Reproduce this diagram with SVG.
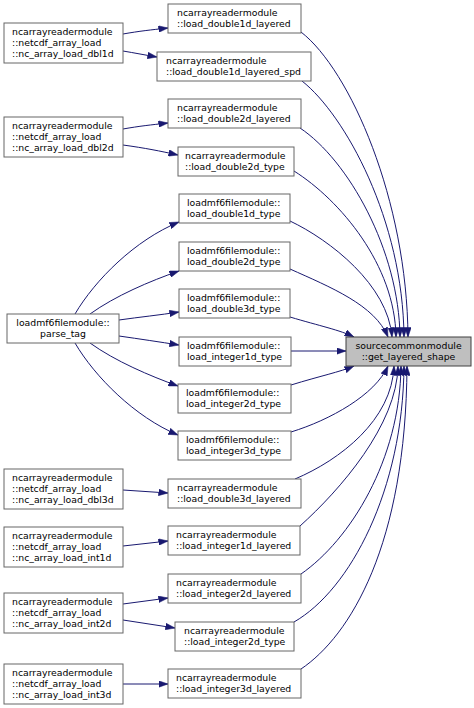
<svg xmlns="http://www.w3.org/2000/svg" width="474" height="708" viewBox="0 0 474 708">
<style>
.nd rect{fill:#ffffff;stroke:#666666;stroke-width:1}
.root rect{fill:#bfbfbf;stroke:#404040;stroke-width:1}
text{font-family:"DejaVu Sans","Liberation Sans",sans-serif;font-size:9.3px;fill:#000000}
.c{text-anchor:middle}
.e path{fill:none;stroke:#191970;stroke-width:1;marker-end:url(#ah)}
</style>
<defs>
<marker id="ah" markerUnits="userSpaceOnUse" markerWidth="10" markerHeight="7" viewBox="0 0 10 7" refX="9.5" refY="3.5" orient="auto">
<path d="M0,0.2 L9.5,3.5 L0,6.8 Z" fill="#191970" stroke="#191970" stroke-width="0.5"/>
</marker>
</defs>
<rect width="474" height="708" fill="#ffffff"/>
<g id="connectors" class="e">
<path d="M123,34 C140,31 150,30 168,28"/>
<path d="M123,51 C135,53 145,55 157,57"/>
<path d="M123,129 C140,126 150,125 168,123"/>
<path d="M123,145 C145,148 160,151 178,155"/>
<path d="M75,314 C95,280 135,240 179,222"/>
<path d="M90,314 C115,296 150,281 179,271"/>
<path d="M119,320 C140,317 160,315 179,312"/>
<path d="M119,336 C140,339 160,342 179,345"/>
<path d="M90,343 C115,361 150,376 178,386"/>
<path d="M75,343 C95,377 135,417 178,435"/>
<path d="M123,490 L168,493"/>
<path d="M123,546 L168,541"/>
<path d="M123,604 L168,598"/>
<path d="M123,620 L175,628"/>
<path d="M123,684 L168,684"/>
<path d="M301,32 C350,70 407,200 408,337"/>
<path d="M302,81 C345,115 403,220 404,337"/>
<path d="M300,128 C348,160 399,250 400,337"/>
<path d="M294,171 C340,200 395,265 396,337"/>
<path d="M290,221 C330,240 388,285 392,337"/>
<path d="M290,269 C330,287 375,305 388,337"/>
<path d="M290,317 C320,326 340,330 354,337"/>
<path d="M291,351 L346,351"/>
<path d="M291,385 C320,376 340,372 354,366"/>
<path d="M291,432 C330,420 375,395 388,366"/>
<path d="M295,479 C340,460 392,420 394,366"/>
<path d="M300,526 C340,490 397,425 398,366"/>
<path d="M301,574 C350,540 400,460 401,366"/>
<path d="M294,622 C350,590 403,490 404,366"/>
<path d="M301,669 C350,636 406,545 407,366"/>
</g>
<g id="n_dbl1d" class="nd"><rect x="4" y="23" width="119" height="40"/><text x="12" y="35">ncarrayreadermodule</text><text x="12" y="46">::netcdf_array_load</text><text x="12" y="57">::nc_array_load_dbl1d</text></g>
<g id="n_dbl2d" class="nd"><rect x="4" y="117" width="119" height="40"/><text x="12" y="129">ncarrayreadermodule</text><text x="12" y="140">::netcdf_array_load</text><text x="12" y="151">::nc_array_load_dbl2d</text></g>
<g id="n_parse_tag" class="nd"><rect x="7" y="314" width="112" height="29"/><text class="c" x="63" y="326">loadmf6filemodule::</text><text class="c" x="63" y="337">parse_tag</text></g>
<g id="n_dbl3d" class="nd"><rect x="4" y="469" width="119" height="40"/><text x="12" y="481">ncarrayreadermodule</text><text x="12" y="492">::netcdf_array_load</text><text x="12" y="503">::nc_array_load_dbl3d</text></g>
<g id="n_int1d" class="nd"><rect x="4" y="527" width="119" height="40"/><text x="12" y="539">ncarrayreadermodule</text><text x="12" y="550">::netcdf_array_load</text><text x="12" y="561">::nc_array_load_int1d</text></g>
<g id="n_int2d" class="nd"><rect x="4" y="593" width="119" height="40"/><text x="12" y="605">ncarrayreadermodule</text><text x="12" y="616">::netcdf_array_load</text><text x="12" y="627">::nc_array_load_int2d</text></g>
<g id="n_int3d" class="nd"><rect x="4" y="664" width="119" height="40"/><text x="12" y="676">ncarrayreadermodule</text><text x="12" y="687">::netcdf_array_load</text><text x="12" y="698">::nc_array_load_int3d</text></g>
<g id="m_load_double1d_layered" class="nd"><rect x="168" y="4" width="133" height="29"/><text x="177" y="16">ncarrayreadermodule</text><text x="177" y="27">::load_double1d_layered</text></g>
<g id="m_load_double1d_layered_spd" class="nd"><rect x="157" y="52" width="154" height="29"/><text x="166" y="64">ncarrayreadermodule</text><text x="166" y="75">::load_double1d_layered_spd</text></g>
<g id="m_load_double2d_layered" class="nd"><rect x="168" y="99" width="133" height="29"/><text x="177" y="111">ncarrayreadermodule</text><text x="177" y="122">::load_double2d_layered</text></g>
<g id="m_load_double2d_type" class="nd"><rect x="178" y="147" width="116" height="29"/><text x="185" y="159">ncarrayreadermodule</text><text x="185" y="170">::load_double2d_type</text></g>
<g id="f_load_double1d_type" class="nd"><rect x="179" y="194" width="111" height="29"/><text x="187" y="206">loadmf6filemodule::</text><text x="187" y="217">load_double1d_type</text></g>
<g id="f_load_double2d_type" class="nd"><rect x="179" y="242" width="111" height="29"/><text x="187" y="254">loadmf6filemodule::</text><text x="187" y="265">load_double2d_type</text></g>
<g id="f_load_double3d_type" class="nd"><rect x="179" y="289" width="111" height="29"/><text x="187" y="301">loadmf6filemodule::</text><text x="187" y="312">load_double3d_type</text></g>
<g id="f_load_integer1d_type" class="nd"><rect x="179" y="337" width="112" height="29"/><text x="187" y="349">loadmf6filemodule::</text><text x="187" y="360">load_integer1d_type</text></g>
<g id="f_load_integer2d_type" class="nd"><rect x="178" y="384" width="113" height="29"/><text x="186" y="396">loadmf6filemodule::</text><text x="186" y="407">load_integer2d_type</text></g>
<g id="f_load_integer3d_type" class="nd"><rect x="178" y="431" width="113" height="29"/><text x="186" y="443">loadmf6filemodule::</text><text x="186" y="454">load_integer3d_type</text></g>
<g id="m_load_double3d_layered" class="nd"><rect x="168" y="479" width="133" height="29"/><text x="177" y="491">ncarrayreadermodule</text><text x="177" y="502">::load_double3d_layered</text></g>
<g id="m_load_integer1d_layered" class="nd"><rect x="168" y="526" width="132" height="29"/><text x="176" y="538">ncarrayreadermodule</text><text x="176" y="549">::load_integer1d_layered</text></g>
<g id="m_load_integer2d_layered" class="nd"><rect x="168" y="574" width="133" height="29"/><text x="176" y="586">ncarrayreadermodule</text><text x="176" y="597">::load_integer2d_layered</text></g>
<g id="m_load_integer2d_type" class="nd"><rect x="175" y="622" width="119" height="29"/><text x="184" y="634">ncarrayreadermodule</text><text x="184" y="645">::load_integer2d_type</text></g>
<g id="m_load_integer3d_layered" class="nd"><rect x="168" y="669" width="133" height="29"/><text x="176" y="681">ncarrayreadermodule</text><text x="176" y="692">::load_integer3d_layered</text></g>
<g id="t_get_layered_shape" class="root"><rect x="346" y="337" width="125" height="29"/><text class="c" x="408.5" y="349">sourcecommonmodule</text><text class="c" x="408.5" y="360">::get_layered_shape</text></g>
</svg>
